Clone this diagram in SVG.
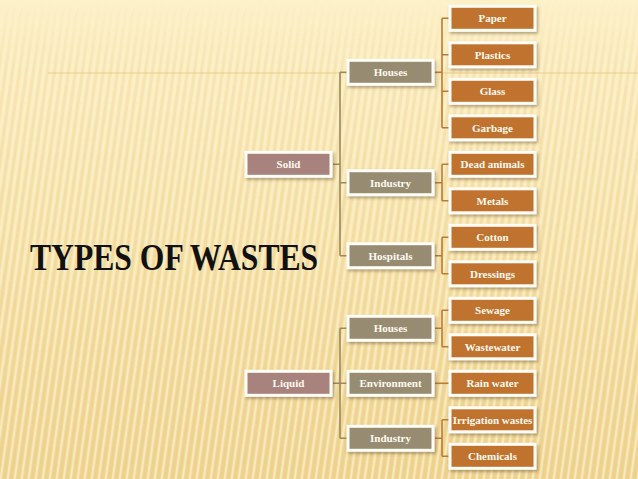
<svg xmlns="http://www.w3.org/2000/svg" width="638" height="479" viewBox="0 0 638 479">
<defs>
<linearGradient id="bg" x1="0" y1="0" x2="0" y2="1">
<stop offset="0" stop-color="#fdf1c9"/>
<stop offset="0.5" stop-color="#f9e7b4"/>
<stop offset="1" stop-color="#f1d898"/>
</linearGradient>
<linearGradient id="fade" x1="0" y1="0" x2="0" y2="1">
<stop offset="0" stop-color="#fff" stop-opacity="0"/>
<stop offset="0.15" stop-color="#fff" stop-opacity="0.45"/>
<stop offset="1" stop-color="#fff" stop-opacity="1"/>
</linearGradient>
<mask id="m"><rect width="638" height="479" fill="url(#fade)"/></mask>
<pattern id="stripes" width="7" height="479" patternUnits="userSpaceOnUse" patternTransform="skewX(-8)">
<rect width="3" height="479" fill="#e6ca84" opacity="0.55"/>
<rect x="4" width="2" height="479" fill="#fff6d8" opacity="0.55"/>
</pattern>
<filter id="sh" x="-20%" y="-30%" width="140%" height="170%">
<feDropShadow dx="1.5" dy="2" stdDeviation="1.5" flood-color="#5a4520" flood-opacity="0.45"/>
</filter>
</defs>
<style>
.b rect{stroke:#fffdf6;stroke-width:3;filter:url(#sh)}
.l rect{fill:#a8827b}
.m rect{fill:#978c71}
.r rect{fill:#c0732d}
.b text{font-family:"Liberation Serif","Times New Roman",serif;font-weight:bold;font-size:11px;fill:#fffaf0;text-anchor:middle;dominant-baseline:central}
.cl{stroke:#9a8a5c;stroke-width:1.6;fill:none}
.cr{stroke:#bd7a33;stroke-width:1.6;fill:none}
</style>
<rect width="638" height="479" fill="url(#bg)"/>
<rect width="638" height="479" fill="url(#stripes)" mask="url(#m)"/>
<line x1="48" y1="73" x2="638" y2="73" stroke="#e6c67a" stroke-width="0.8"/>
<text id="title" transform="translate(30,270) scale(1.02,1.2)" x="0" y="0" font-family="'Liberation Serif','Times New Roman',serif" font-weight="bold" font-size="31" fill="#111">TYPES OF WASTES</text>
<g id="connectors">
<path class="cl" d="M333 164.3H340M340 72.3V255.7M340 72.3H347M340 182.7H347M340 255.7H347"/>
<path class="cl" d="M333 383.3H347M340 328.3V438.3M340 328.3H347M340 438.3H347"/>
<path class="cr" d="M435 72.3H442M442 18.3V127.8M442 18.3H449M442 54.8H449M442 91.3H449M442 127.8H449"/>
<path class="cr" d="M435 182.7H442M442 164.3V200.8M442 164.3H449M442 200.8H449"/>
<path class="cr" d="M435 255.7H442M442 237.3V273.8M442 237.3H449M442 273.8H449"/>
<path class="cr" d="M435 328.3H442M442 310.3V346.8M442 310.3H449M442 346.8H449"/>
<path class="cr" d="M435 383.3H449"/>
<path class="cr" d="M435 438.3H442M442 419.8V456.3M442 419.8H449M442 456.3H449"/>
</g>
<g id="solid" class="b l"><rect x="246" y="152.3" width="85" height="24"/><text x="288.5" y="164.3">Solid</text></g>
<g id="liquid" class="b l"><rect x="246" y="371.3" width="85" height="24"/><text x="288.5" y="383.3">Liquid</text></g>
<g id="houses-s" class="b m"><rect x="348" y="60.3" width="85" height="24"/><text x="390.5" y="72.3">Houses</text></g>
<g id="industry-s" class="b m"><rect x="348" y="170.7" width="85" height="24"/><text x="390.5" y="182.7">Industry</text></g>
<g id="hospitals" class="b m"><rect x="348" y="243.7" width="85" height="24"/><text x="390.5" y="255.7">Hospitals</text></g>
<g id="houses-l" class="b m"><rect x="348" y="316.3" width="85" height="24"/><text x="390.5" y="328.3">Houses</text></g>
<g id="environment" class="b m"><rect x="348" y="371.3" width="85" height="24"/><text x="390.5" y="383.3">Environment</text></g>
<g id="industry-l" class="b m"><rect x="348" y="426.3" width="85" height="24"/><text x="390.5" y="438.3">Industry</text></g>
<g id="paper" class="b r"><rect x="450" y="6.3" width="85" height="24"/><text x="492.5" y="18.3">Paper</text></g>
<g id="plastics" class="b r"><rect x="450" y="42.8" width="85" height="24"/><text x="492.5" y="54.8">Plastics</text></g>
<g id="glass" class="b r"><rect x="450" y="79.3" width="85" height="24"/><text x="492.5" y="91.3">Glass</text></g>
<g id="garbage" class="b r"><rect x="450" y="115.8" width="85" height="24"/><text x="492.5" y="127.8">Garbage</text></g>
<g id="dead-animals" class="b r"><rect x="450" y="152.3" width="85" height="24"/><text x="492.5" y="164.3">Dead animals</text></g>
<g id="metals" class="b r"><rect x="450" y="188.8" width="85" height="24"/><text x="492.5" y="200.8">Metals</text></g>
<g id="cotton" class="b r"><rect x="450" y="225.3" width="85" height="24"/><text x="492.5" y="237.3">Cotton</text></g>
<g id="dressings" class="b r"><rect x="450" y="261.8" width="85" height="24"/><text x="492.5" y="273.8">Dressings</text></g>
<g id="sewage" class="b r"><rect x="450" y="298.3" width="85" height="24"/><text x="492.5" y="310.3">Sewage</text></g>
<g id="wastewater" class="b r"><rect x="450" y="334.8" width="85" height="24"/><text x="492.5" y="346.8">Wastewater</text></g>
<g id="rain-water" class="b r"><rect x="450" y="371.3" width="85" height="24"/><text x="492.5" y="383.3">Rain water</text></g>
<g id="irrigation" class="b r"><rect x="450" y="407.8" width="85" height="24"/><text x="492.5" y="419.8" font-size="10.5">Irrigation wastes</text></g>
<g id="chemicals" class="b r"><rect x="450" y="444.3" width="85" height="24"/><text x="492.5" y="456.3">Chemicals</text></g>
</svg>
